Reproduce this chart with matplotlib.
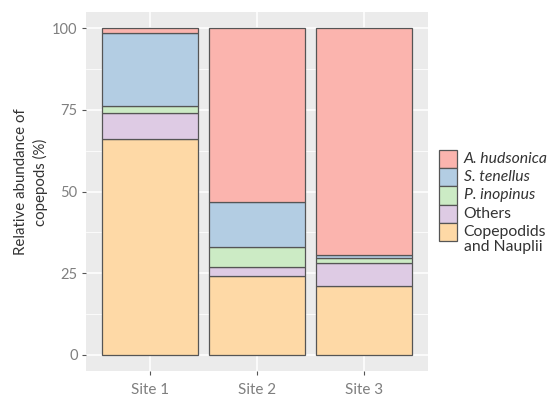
import matplotlib
matplotlib.use("Agg")
import matplotlib.pyplot as plt
from matplotlib.patches import Rectangle
import numpy as np

# relative abundance (%) per site
sites = ["Site 1", "Site 2", "Site 3"]
copepodids_nauplii = [66.0, 24.0, 21.1]
others = [8.0, 2.9, 7.1]
p_inopinus = [2.2, 6.1, 1.4]
s_tenellus = [22.4, 13.9, 1.0]
a_hudsonica = [1.4, 53.1, 69.4]

# stacking order bottom -> top
series = [copepodids_nauplii, others, p_inopinus, s_tenellus, a_hudsonica]
colors = ["#FED9A6", "#DECBE4", "#CCEBC5", "#B3CDE3", "#FBB4AE"]

legend_labels = ["A. hudsonica", "S. tenellus", "P. inopinus", "Others", "Copepodids\nand Nauplii"]
legend_italic = [True, True, True, False, False]
legend_colors = ["#FBB4AE", "#B3CDE3", "#CCEBC5", "#DECBE4", "#FED9A6"]

plt.rcParams["font.family"] = ["Lato", "DejaVu Sans"]

W, H = 550, 401
fig = plt.figure(figsize=(5.5, 4.01), dpi=100)
ax = fig.add_axes([86 / W, 1 - 371 / H, (427.7 - 86) / W, (371 - 12) / H])
ax.set_facecolor("#EBEBEB")

x = np.arange(1, len(sites) + 1)
bottom = np.zeros(len(sites))
for vals, col in zip(series, colors):
    ax.bar(x, vals, width=0.9, bottom=bottom, color=col, edgecolor="#555555",
           linewidth=0.9, zorder=3)
    bottom += np.array(vals)

ax.set_xlim(0.4, 3.6)
ax.set_ylim(-5, 105)
ax.set_yticks([0, 25, 50, 75, 100])
ax.set_yticks([12.5, 37.5, 62.5, 87.5], minor=True)
ax.set_xticks(x)
ax.set_xticklabels(sites)
ax.grid(which="major", color="white", linewidth=1.1, zorder=0)
ax.grid(which="minor", axis="y", color="white", linewidth=0.55, zorder=0)
for s in ax.spines.values():
    s.set_visible(False)
ax.tick_params(axis="both", which="major", length=3, color="#555555",
               labelcolor="#7F7F7F", labelsize=10.5, pad=3)
ax.tick_params(axis="x", pad=6, labelsize=11)
ax.tick_params(which="minor", length=0)

fig.text(31 / W, 1 - 182 / H, "Relative abundance of\ncopepods (%)", rotation=90,
         ha="center", va="center", fontsize=10.8, color="#333333", linespacing=1.4)

# legend drawn by hand to keep the key alignment of the original
key_w, key_h = 17.4, 18.2
top = 150
line_gap = 15.3
for i, (lab, ital, col) in enumerate(zip(legend_labels, legend_italic, legend_colors)):
    y0 = top + i * key_h
    fig.add_artist(Rectangle((439.3 / W, 1 - (y0 + key_h) / H), key_w / W, key_h / H,
                             transform=fig.transFigure, facecolor=col,
                             edgecolor="#555555", linewidth=0.9))
    for j, line in enumerate(lab.split("\n")):
        fig.text(463.5 / W, 1 - (y0 + key_h / 2 + j * line_gap) / H, line,
                 ha="left", va="center", fontsize=11.3, color="#333333",
                 style="italic" if ital else "normal")

fig.savefig("out.png", dpi=100)
